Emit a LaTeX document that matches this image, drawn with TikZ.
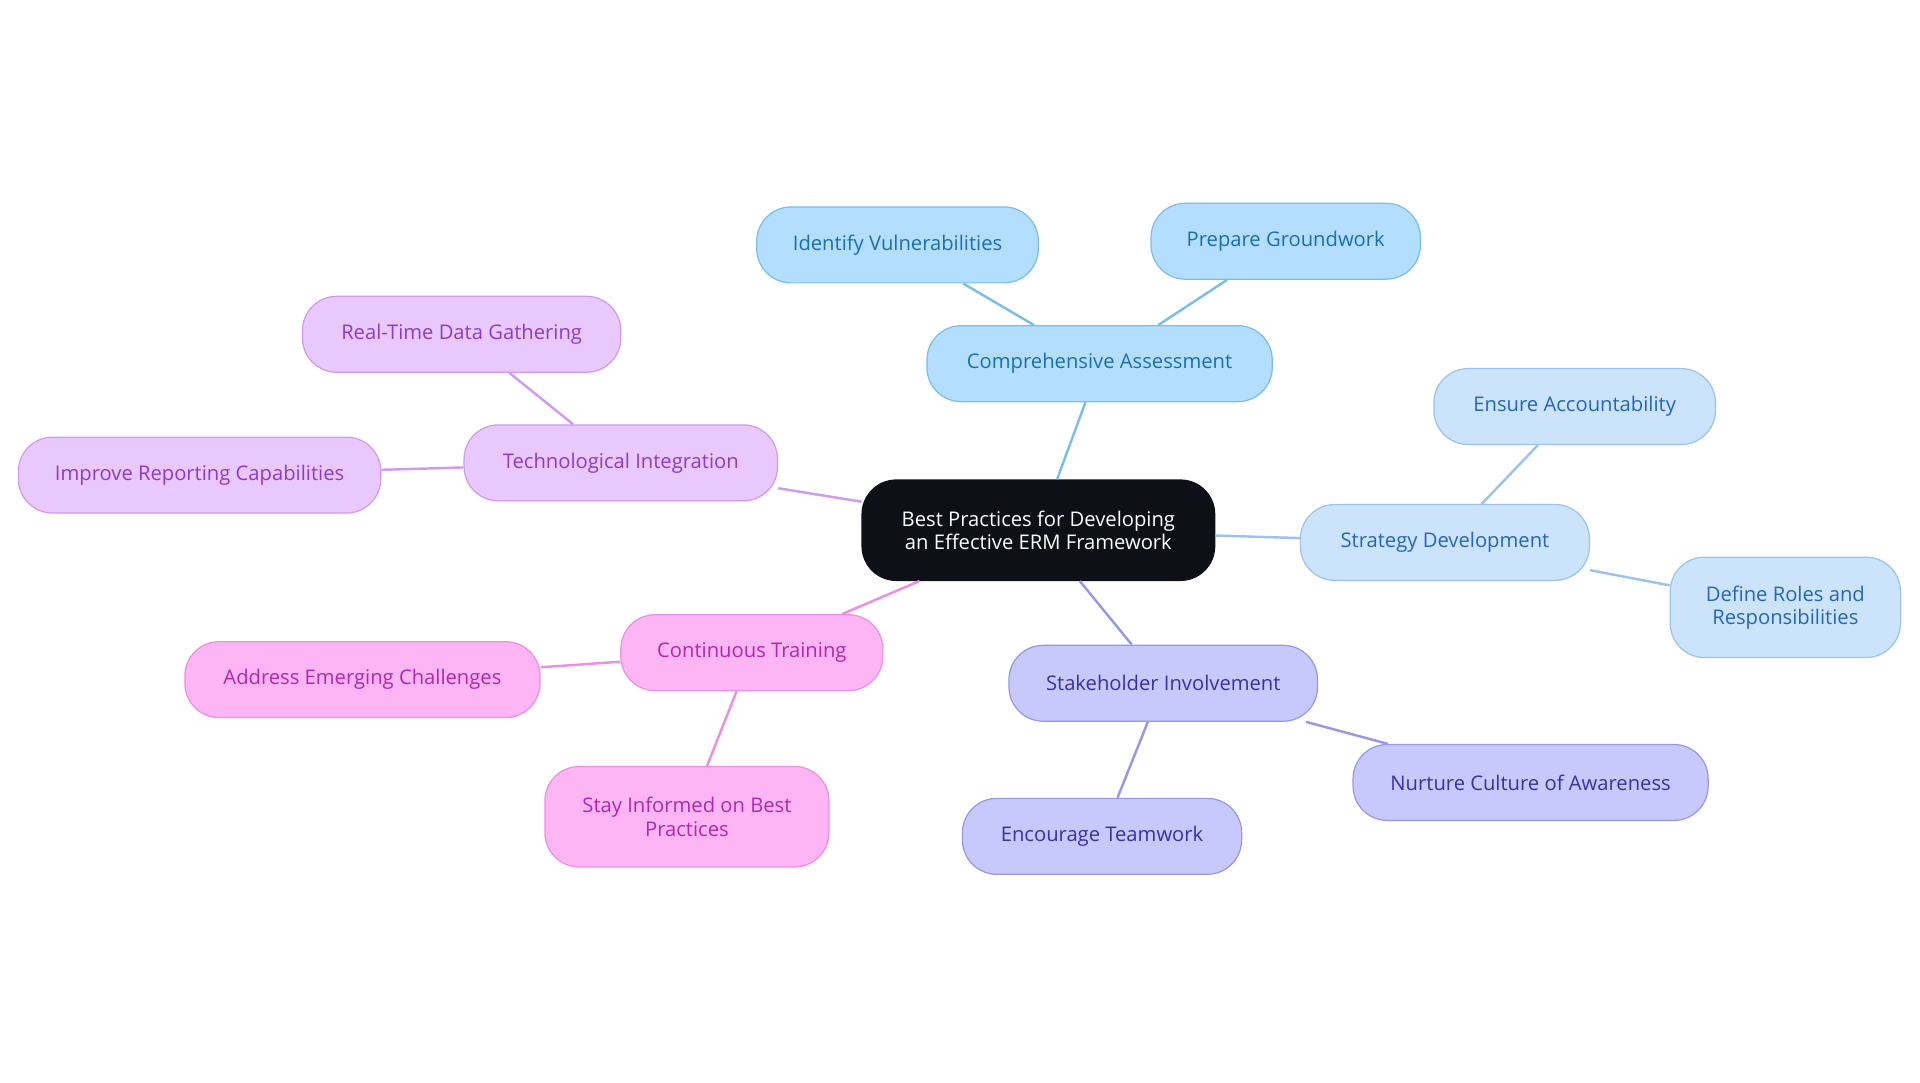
\documentclass[tikz,border=0pt]{standalone}
\usepackage{fontspec}
\setmainfont{Open Sans}
\definecolor{bA}{HTML}{B3DEFF}\definecolor{dA}{HTML}{7BBDEB}\definecolor{tA}{HTML}{1A6FB0}
\definecolor{bB}{HTML}{CCE3FC}\definecolor{dB}{HTML}{9CC2EE}\definecolor{tB}{HTML}{2566B8}
\definecolor{bC}{HTML}{C7C9FD}\definecolor{dC}{HTML}{9797E8}\definecolor{tC}{HTML}{3C2FA5}
\definecolor{bD}{HTML}{FDB6F3}\definecolor{dD}{HTML}{EC8FE0}\definecolor{tD}{HTML}{B326AE}
\definecolor{bE}{HTML}{E9C8FD}\definecolor{dE}{HTML}{CF9AF0}\definecolor{tE}{HTML}{8E3ACB}
\definecolor{ctr}{HTML}{0D1117}
\tikzset{
 box/.style={draw,line width=1pt,rounded corners=28pt,align=center,inner sep=0pt,
   font=\fontsize{16.5}{19}\selectfont,minimum height=62pt},
 gA/.style={box,fill=bA,draw=dA,text=tA},
 gB/.style={box,fill=bB,draw=dB,text=tB},
 gC/.style={box,fill=bC,draw=dC,text=tC},
 gD/.style={box,fill=bD,draw=dD,text=tD},
 gE/.style={box,fill=bE,draw=dE,text=tE},
 lk/.style={line width=2pt}
}
\begin{document}
\begin{tikzpicture}[x=1pt,y=-1pt]
\useasboundingbox (0,0) rectangle (1568,884);
\node[box,fill=ctr,draw=ctr,text=white,minimum width=288pt,minimum height=82pt] (c) at (848,433) {Best Practices for Developing\\an Effective ERM Framework};
\node[gA,minimum width=282pt] (a) at (898,297) {Comprehensive Assessment};
\node[gA,minimum width=230pt] (a1) at (733,200) {Identify Vulnerabilities};
\node[gA,minimum width=220pt] (a2) at (1050,197) {Prepare Groundwork};
\node[gB,minimum width=236pt] (b) at (1180,443) {Strategy Development};
\node[gB,minimum width=230pt] (b1) at (1286,332) {Ensure Accountability};
\node[gB,minimum width=188pt,minimum height=82pt] (b2) at (1458,496) {Define Roles and\\Responsibilities};
\node[gC,minimum width=252pt] (s) at (950,558) {Stakeholder Involvement};
\node[gC,minimum width=290pt] (s1) at (1250,639) {Nurture Culture of Awareness};
\node[gC,minimum width=228pt] (s2) at (900,683) {Encourage Teamwork};
\node[gD,minimum width=214pt] (t) at (614,533) {Continuous Training};
\node[gD,minimum width=290pt] (t1) at (296,555) {Address Emerging Challenges};
\node[gD,minimum width=232pt,minimum height=82pt] (t2) at (561,667) {Stay Informed on Best\\Practices};
\node[gE,minimum width=256pt] (e) at (507,378) {Technological Integration};
\node[gE,minimum width=260pt] (e1) at (377,273) {Real-Time Data Gathering};
\node[gE,minimum width=296pt] (e2) at (163,388) {Improve Reporting Capabilities};
\begin{scope}[on background layer/.style={}]
\end{scope}
\begin{pgfonlayer}{main}\end{pgfonlayer}
\draw[lk,dA] (c) -- (a); \draw[lk,dA] (a) -- (a1); \draw[lk,dA] (a) -- (a2);
\draw[lk,dB] (c) -- (b); \draw[lk,dB] (b) -- (b1); \draw[lk,dB] (b) -- (b2);
\draw[lk,dC] (c) -- (s); \draw[lk,dC] (s) -- (s1); \draw[lk,dC] (s) -- (s2);
\draw[lk,dD] (c) -- (t); \draw[lk,dD] (t) -- (t1); \draw[lk,dD] (t) -- (t2);
\draw[lk,dE] (c) -- (e); \draw[lk,dE] (e) -- (e1); \draw[lk,dE] (e) -- (e2);
\end{tikzpicture}
\end{document}
